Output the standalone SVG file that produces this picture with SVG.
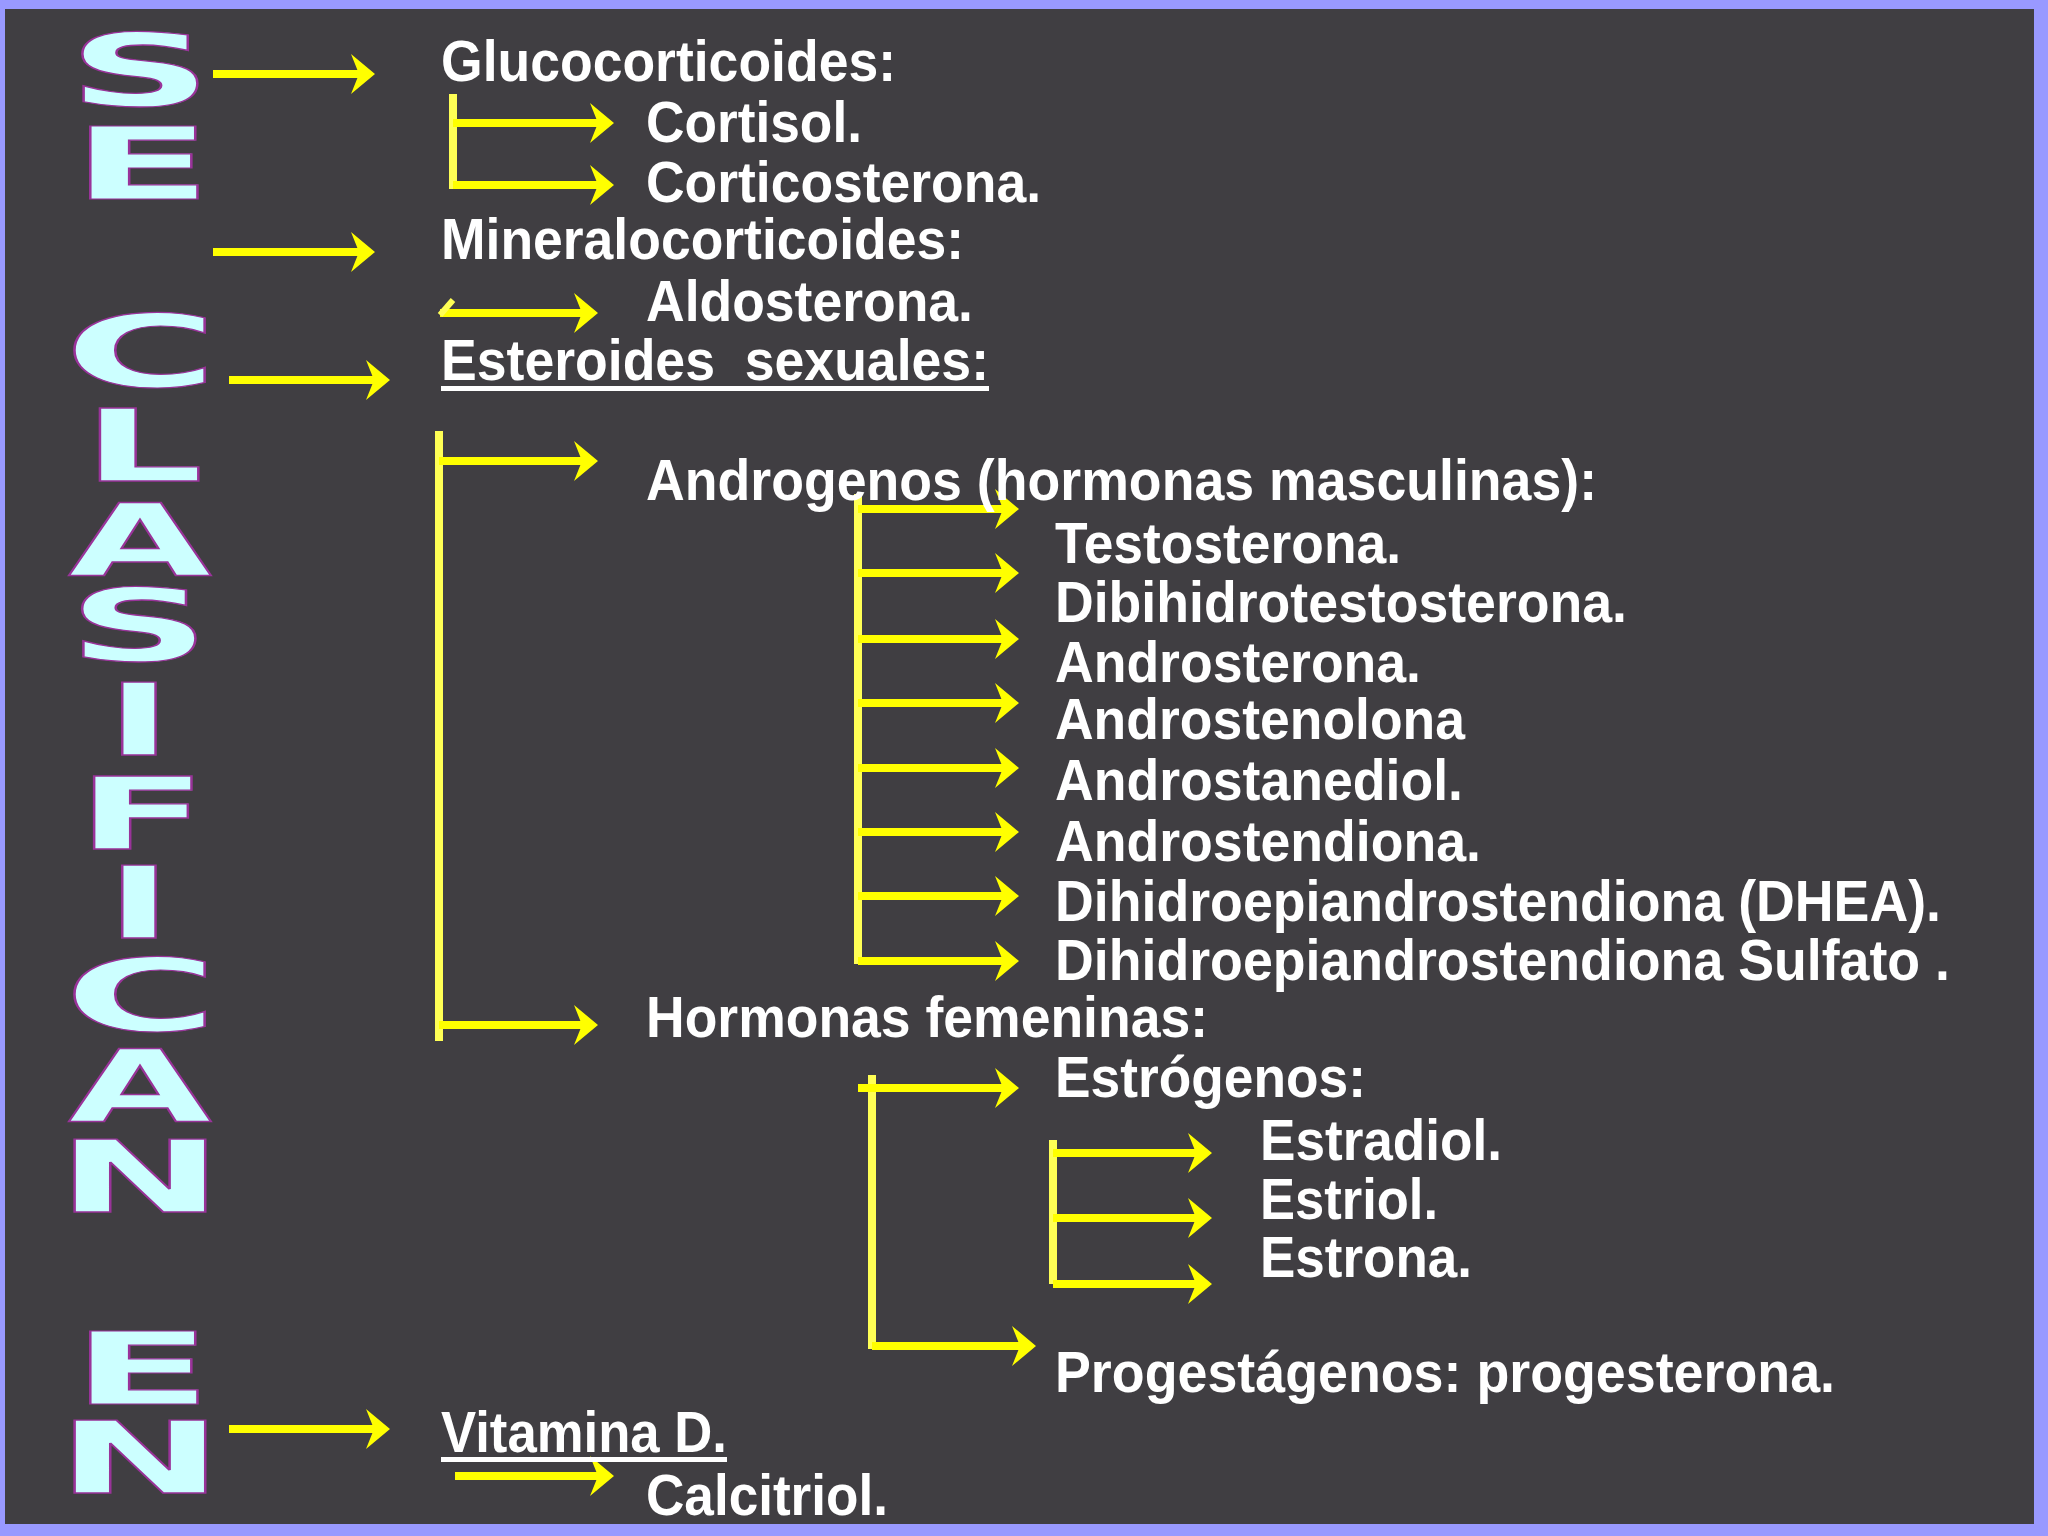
<svg xmlns="http://www.w3.org/2000/svg" width="2048" height="1536" viewBox="0 0 2048 1536">
<style>
.t{font-family:"Liberation Sans",Arial,sans-serif;font-weight:bold;font-size:58px;fill:#FFFFFF}
.w{font-family:"DejaVu Sans",sans-serif;font-weight:bold;font-size:100px;fill:#CCFFFF;stroke:#993399;stroke-width:2;vector-effect:non-scaling-stroke;text-anchor:middle}
.h{stroke:#FFFF00;stroke-width:8;fill:none;marker-end:url(#ah)}
.v{stroke:#FFFF55;stroke-width:8;fill:none}
.u{fill:#FFFFFF}
</style>
<defs>
<marker id="ah" markerUnits="userSpaceOnUse" markerWidth="24" markerHeight="40" viewBox="0 0 24 40" refX="8" refY="20" orient="auto" overflow="visible">
<path d="M0,0 L24,20 L0,40 L8,20 Z" fill="#FFFF00"/>
</marker>
</defs>
<rect x="0" y="0" width="2048" height="1536" fill="#9999FF"/>
<rect x="5" y="9" width="2029" height="1515" fill="#403E42"/>

<g id="title">
<text class="w" transform="translate(140,106) scale(2.0,1)">S</text>
<text class="w" transform="translate(142,199) scale(2.07,1)">E</text>
<text class="w" transform="translate(141,387) scale(2.1,1)">C</text>
<text class="w" transform="translate(143,481) scale(1.9,1)">L</text>
<text class="w" transform="translate(140,575) scale(1.86,1)">A</text>
<text class="w" transform="translate(139,661) scale(1.97,1)">S</text>
<text class="w" transform="translate(139,755) scale(1.77,1)">I</text>
<text class="w" transform="translate(142,849) scale(1.92,1)">F</text>
<text class="w" transform="translate(139,938) scale(1.77,1)">I</text>
<text class="w" transform="translate(141,1031) scale(2.1,1)">C</text>
<text class="w" transform="translate(140,1121) scale(1.86,1)">A</text>
<text class="w" transform="translate(140,1212) scale(2.0,1)">N</text>
<text class="w" transform="translate(142,1404) scale(2.07,1)">E</text>
<text class="w" transform="translate(140,1493) scale(2.0,1)">N</text>
</g>

<g id="connectors">
<line class="h" x1="213" y1="74" x2="359" y2="74"/>
<line class="h" x1="213" y1="252" x2="359" y2="252"/>
<line class="h" x1="229" y1="380" x2="374" y2="380"/>
<line class="h" x1="229" y1="1429" x2="374" y2="1429"/>

<line class="v" x1="453" y1="94" x2="453" y2="189"/>
<line class="h" x1="453" y1="123" x2="598" y2="123"/>
<line class="h" x1="453" y1="185" x2="598" y2="185"/>

<line class="h" x1="440" y1="313" x2="582" y2="313"/>
<line x1="440" y1="315" x2="453" y2="300" stroke="#FFFF55" stroke-width="6"/>

<line class="v" x1="439" y1="431" x2="439" y2="1041"/>
<line class="h" x1="439" y1="461" x2="582" y2="461"/>
<line class="h" x1="439" y1="1025" x2="582" y2="1025"/>

<line class="v" x1="858" y1="494" x2="858" y2="964"/>
<line class="h" x1="858" y1="509" x2="1003" y2="509"/>
<line class="h" x1="858" y1="573" x2="1003" y2="573"/>
<line class="h" x1="858" y1="639" x2="1003" y2="639"/>
<line class="h" x1="858" y1="703" x2="1003" y2="703"/>
<line class="h" x1="858" y1="768" x2="1003" y2="768"/>
<line class="h" x1="858" y1="832" x2="1003" y2="832"/>
<line class="h" x1="858" y1="896" x2="1003" y2="896"/>
<line class="h" x1="858" y1="961" x2="1003" y2="961"/>

<line class="v" x1="872" y1="1075" x2="872" y2="1349"/>
<line class="h" x1="858" y1="1088" x2="1003" y2="1088"/>
<line class="h" x1="872" y1="1346" x2="1020" y2="1346"/>

<line class="v" x1="1053" y1="1140" x2="1053" y2="1284"/>
<line class="h" x1="1053" y1="1153" x2="1196" y2="1153"/>
<line class="h" x1="1053" y1="1218" x2="1196" y2="1218"/>
<line class="h" x1="1053" y1="1284" x2="1196" y2="1284"/>

<line class="h" x1="455" y1="1476" x2="598" y2="1476"/>
</g>

<g id="glucocorticoides"><text class="t" x="441" y="81" textLength="455" lengthAdjust="spacingAndGlyphs">Glucocorticoides:</text></g>
<g id="cortisol"><text class="t" x="646" y="142" textLength="216" lengthAdjust="spacingAndGlyphs">Cortisol.</text></g>
<g id="corticosterona"><text class="t" x="646" y="202" textLength="395" lengthAdjust="spacingAndGlyphs">Corticosterona.</text></g>
<g id="mineralocorticoides"><text class="t" x="441" y="259" textLength="523" lengthAdjust="spacingAndGlyphs">Mineralocorticoides:</text></g>
<g id="aldosterona"><text class="t" x="646" y="321" textLength="327" lengthAdjust="spacingAndGlyphs">Aldosterona.</text></g>
<g id="esteroides"><text class="t" x="441" y="380" textLength="548" lengthAdjust="spacingAndGlyphs" xml:space="preserve">Esteroides  sexuales:</text><rect class="u" x="441" y="386" width="548" height="5"/></g>
<g id="androgenos"><text class="t" x="646" y="500" textLength="951" lengthAdjust="spacingAndGlyphs">Androgenos (hormonas masculinas):</text></g>
<g id="testosterona"><text class="t" x="1055" y="563" textLength="346" lengthAdjust="spacingAndGlyphs">Testosterona.</text></g>
<g id="dibihidrotestosterona"><text class="t" x="1055" y="622" textLength="572" lengthAdjust="spacingAndGlyphs">Dibihidrotestosterona.</text></g>
<g id="androsterona"><text class="t" x="1055" y="682" textLength="366" lengthAdjust="spacingAndGlyphs">Androsterona.</text></g>
<g id="androstenolona"><text class="t" x="1055" y="739" textLength="410" lengthAdjust="spacingAndGlyphs">Androstenolona</text></g>
<g id="androstanediol"><text class="t" x="1055" y="800" textLength="408" lengthAdjust="spacingAndGlyphs">Androstanediol.</text></g>
<g id="androstendiona"><text class="t" x="1055" y="861" textLength="426" lengthAdjust="spacingAndGlyphs">Androstendiona.</text></g>
<g id="dhea"><text class="t" x="1055" y="921" textLength="886" lengthAdjust="spacingAndGlyphs">Dihidroepiandrostendiona (DHEA).</text></g>
<g id="dhea-sulfato"><text class="t" x="1055" y="980" textLength="895" lengthAdjust="spacingAndGlyphs">Dihidroepiandrostendiona Sulfato .</text></g>
<g id="femeninas"><text class="t" x="646" y="1037" textLength="562" lengthAdjust="spacingAndGlyphs">Hormonas femeninas:</text></g>
<g id="estrogenos"><text class="t" x="1055" y="1097" textLength="311" lengthAdjust="spacingAndGlyphs">Estrógenos:</text></g>
<g id="estradiol"><text class="t" x="1260" y="1160" textLength="242" lengthAdjust="spacingAndGlyphs">Estradiol.</text></g>
<g id="estriol"><text class="t" x="1260" y="1219" textLength="178" lengthAdjust="spacingAndGlyphs">Estriol.</text></g>
<g id="estrona"><text class="t" x="1260" y="1277" textLength="212" lengthAdjust="spacingAndGlyphs">Estrona.</text></g>
<g id="progestagenos"><text class="t" x="1055" y="1392" textLength="780" lengthAdjust="spacingAndGlyphs">Progestágenos: progesterona.</text></g>
<g id="vitamina-d"><text class="t" x="441" y="1452" textLength="286" lengthAdjust="spacingAndGlyphs">Vitamina D.</text><rect class="u" x="441" y="1457" width="286" height="5"/></g>
<g id="calcitriol"><text class="t" x="646" y="1515" textLength="242" lengthAdjust="spacingAndGlyphs">Calcitriol.</text></g>
</svg>
